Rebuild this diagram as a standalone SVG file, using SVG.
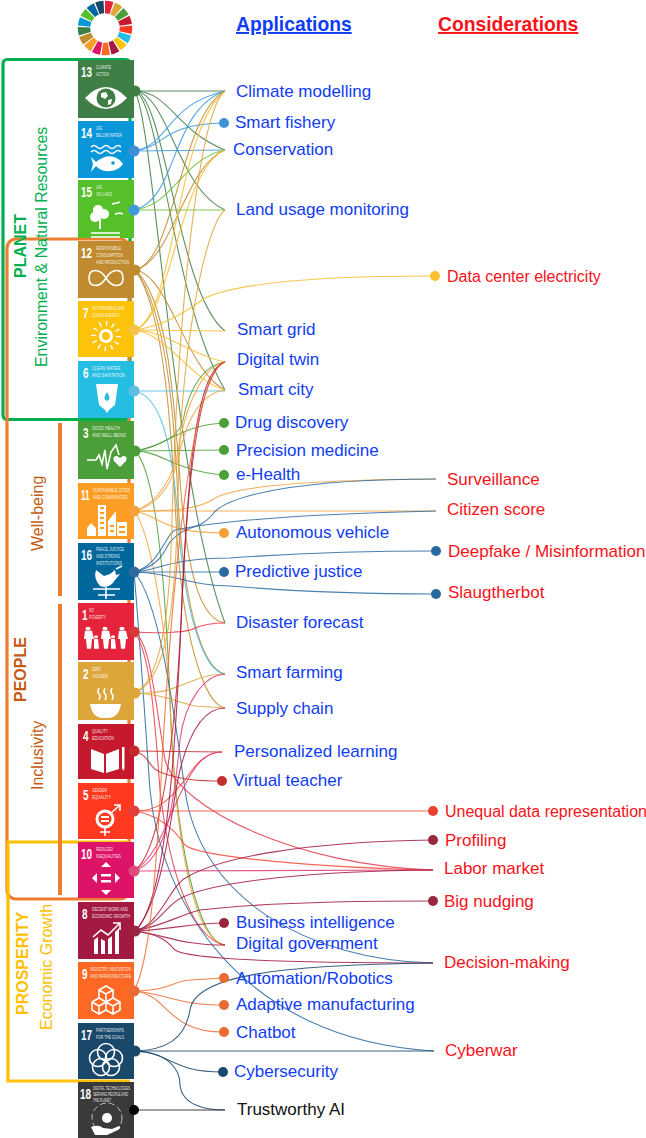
<svg xmlns="http://www.w3.org/2000/svg" width="646" height="1138" viewBox="0 0 646 1138">
<style>
text{font-family:"Liberation Sans",Arial,sans-serif}
.app{fill:#0f3cf5;font-size:17px}
.con{fill:#f8131a;font-size:17px}
.con2{fill:#f8131a;font-size:16px}
.hd{font-size:19.300px;font-weight:bold;text-decoration:underline}
.n{font-weight:bold;font-size:15.500px;fill:#fff}
.t{font-size:5.300px;fill:#fff;opacity:.85}
.w{fill:#fff}
.s{fill:none;stroke:#fff;stroke-width:1.6}
.br{fill:none;stroke-width:3.2}
#connectors path{fill:none;stroke-width:1.1;opacity:.85}
.c13{stroke:#3f7e44}.c14{stroke:#3a96dc}.c15{stroke:#66c12f}.c12{stroke:#bf8b2e}.c7{stroke:#f9bd2c}.c6{stroke:#4fbfe8}.c3{stroke:#4c9f38}.c11{stroke:#f5a03a}.c16{stroke:#2a6aa0}.c1{stroke:#e5384a}.c2{stroke:#dda63a}.c4{stroke:#c5292d}.c5{stroke:#ee4b38}.c10{stroke:#dd3a75}.c8{stroke:#a21942}.c9{stroke:#ee6a33}.c17{stroke:#19486a}.c18{stroke:#222}
</style>
<g id="sdg-wheel" fill="none" stroke-width="12.500">
<circle cx="105" cy="28" r="21" pathLength="17" stroke-dasharray=".86 16.14" stroke="#e5243b" transform="rotate(-90 105 28)"/>
<circle cx="105" cy="28" r="21" pathLength="17" stroke-dasharray=".86 16.14" stroke="#dda63a" transform="rotate(-68.8 105 28)"/>
<circle cx="105" cy="28" r="21" pathLength="17" stroke-dasharray=".86 16.14" stroke="#4c9f38" transform="rotate(-47.6 105 28)"/>
<circle cx="105" cy="28" r="21" pathLength="17" stroke-dasharray=".86 16.14" stroke="#c5192d" transform="rotate(-26.5 105 28)"/>
<circle cx="105" cy="28" r="21" pathLength="17" stroke-dasharray=".86 16.14" stroke="#ff3a21" transform="rotate(-5.3 105 28)"/>
<circle cx="105" cy="28" r="21" pathLength="17" stroke-dasharray=".86 16.14" stroke="#26bde2" transform="rotate(15.9 105 28)"/>
<circle cx="105" cy="28" r="21" pathLength="17" stroke-dasharray=".86 16.14" stroke="#fcc30b" transform="rotate(37.1 105 28)"/>
<circle cx="105" cy="28" r="21" pathLength="17" stroke-dasharray=".86 16.14" stroke="#a21942" transform="rotate(58.2 105 28)"/>
<circle cx="105" cy="28" r="21" pathLength="17" stroke-dasharray=".86 16.14" stroke="#fd6925" transform="rotate(79.4 105 28)"/>
<circle cx="105" cy="28" r="21" pathLength="17" stroke-dasharray=".86 16.14" stroke="#dd1367" transform="rotate(100.6 105 28)"/>
<circle cx="105" cy="28" r="21" pathLength="17" stroke-dasharray=".86 16.14" stroke="#fd9d24" transform="rotate(121.8 105 28)"/>
<circle cx="105" cy="28" r="21" pathLength="17" stroke-dasharray=".86 16.14" stroke="#bf8b2e" transform="rotate(142.9 105 28)"/>
<circle cx="105" cy="28" r="21" pathLength="17" stroke-dasharray=".86 16.14" stroke="#3f7e44" transform="rotate(164.1 105 28)"/>
<circle cx="105" cy="28" r="21" pathLength="17" stroke-dasharray=".86 16.14" stroke="#0a97d9" transform="rotate(185.3 105 28)"/>
<circle cx="105" cy="28" r="21" pathLength="17" stroke-dasharray=".86 16.14" stroke="#56c02b" transform="rotate(206.5 105 28)"/>
<circle cx="105" cy="28" r="21" pathLength="17" stroke-dasharray=".86 16.14" stroke="#00689d" transform="rotate(227.6 105 28)"/>
<circle cx="105" cy="28" r="21" pathLength="17" stroke-dasharray=".86 16.14" stroke="#19486a" transform="rotate(248.8 105 28)"/>
</g>
<g id="groups">
<rect class="br" x="3" y="59.5" width="127" height="360" rx="4" stroke="#00b050"/>
<rect class="br" x="7" y="239" width="122" height="660" rx="9" stroke="#ed7d31"/>
<path class="br" d="M129 842H8V1081H130" stroke="#ffc000"/>
<path d="M60 423V596M60 604V895" fill="none" stroke="#ed7d31" stroke-width="4"/>
<text transform="translate(26 278) rotate(-90)" font-size="16" font-weight="bold" fill="#00b050">PLANET</text>
<text transform="translate(47 367) rotate(-90)" font-size="15.900" fill="#00b050">Environment &amp; Natural Resources</text>
<text transform="translate(43 551) rotate(-90)" font-size="16" fill="#c55a11">Well-being</text>
<text transform="translate(26 702) rotate(-90)" font-size="16" font-weight="bold" fill="#c55a11">PEOPLE</text>
<text transform="translate(43 790) rotate(-90)" font-size="16" fill="#c55a11">Inclusivity</text>
<text transform="translate(28 1015) rotate(-90)" font-size="16" font-weight="bold" fill="#ffc000">PROSPERITY</text>
<text transform="translate(52 1030) rotate(-90)" font-size="16" fill="#ffc000">Economic Growth</text>
</g>
<g id="sdg-13"><g transform="translate(78 60)"><rect width="56" height="58" fill="#3f7e44"/><text class="n" transform="translate(3 17) scale(.64 1)">13</text><text class="t" x="18" y="9" textLength="15" lengthAdjust="spacingAndGlyphs">CLIMATE</text><text class="t" x="18" y="16" textLength="13" lengthAdjust="spacingAndGlyphs">ACTION</text><path class="w" d="M7 38Q28 16 49 38Q28 60 7 38Z"/><circle cx="28" cy="38" r="9.500" fill="#3f7e44"/><path class="w" d="M23 33l5-1 2 4-3 3-4-2zM30 40l4-1-1 5-3 1z"/></g></g>
<g id="sdg-14"><g transform="translate(78 121)"><rect width="56" height="57" fill="#0a97d9"/><text class="n" transform="translate(3 17) scale(.64 1)">14</text><text class="t" x="18" y="9" textLength="6" lengthAdjust="spacingAndGlyphs">LIFE</text><text class="t" x="18" y="16" textLength="26" lengthAdjust="spacingAndGlyphs">BELOW WATER</text><path class="s" d="M13 26q3-3 6 0t6 0 6 0 6 0 6 0M13 31q3-3 6 0t6 0 6 0 6 0 6 0"/><path class="w" d="M13 36l5 5q10-8 18-5 6 2 9 7-5 7-13 7-9 1-14-5l-5 6 2-8z"/><circle cx="35" cy="42" r="1.800" fill="#0a97d9"/></g></g>
<g id="sdg-15"><g transform="translate(78 180)"><rect width="56" height="58" fill="#56c02b"/><text class="n" transform="translate(3 17) scale(.64 1)">15</text><text class="t" x="18" y="9" textLength="6" lengthAdjust="spacingAndGlyphs">LIFE</text><text class="t" x="18" y="16" textLength="16" lengthAdjust="spacingAndGlyphs">ON LAND</text><circle cx="20" cy="30" r="5" class="w"/><circle cx="26" cy="34" r="5" class="w"/><circle cx="17" cy="37" r="5" class="w"/><rect x="21" y="38" width="2" height="11" class="w"/><path class="s" d="M13 53H42M13 57H42M34 24l5-1 3-1M37 34l5-1 3 1" stroke-width="1.200"/></g></g>
<g id="sdg-12"><g transform="translate(78 241)"><rect width="56" height="57" fill="#bf8b2e"/><text class="n" transform="translate(3 17) scale(.64 1)">12</text><text class="t" x="18" y="9" textLength="25" lengthAdjust="spacingAndGlyphs">RESPONSIBLE</text><text class="t" x="18" y="16" textLength="27" lengthAdjust="spacingAndGlyphs">CONSUMPTION</text><text class="t" x="18" y="23" textLength="33" lengthAdjust="spacingAndGlyphs">AND PRODUCTION</text><path class="s" stroke-width="2.800" d="M28 37C22 27 11 27 11 37S22 47 28 37 45 27 45 37 34 47 28 37Z"/></g></g>
<g id="sdg-7"><g transform="translate(78 301)"><rect width="56" height="56" fill="#fdc30b"/><text class="n" transform="translate(5 17) scale(.64 1)">7</text><text class="t" x="14" y="9" textLength="33" lengthAdjust="spacingAndGlyphs">AFFORDABLE AND</text><text class="t" x="14" y="16" textLength="28" lengthAdjust="spacingAndGlyphs">CLEAN ENERGY</text><circle cx="28" cy="35" r="5.500" fill="none" stroke="#fff" stroke-width="3"/><circle cx="28" cy="35" r="12.500" fill="none" stroke="#fff" stroke-width="5" stroke-dasharray="1.400 5.100"/></g></g>
<g id="sdg-6"><g transform="translate(78 361)"><rect width="56" height="57" fill="#26bde2"/><text class="n" transform="translate(5 17) scale(.64 1)">6</text><text class="t" x="14" y="9" textLength="28" lengthAdjust="spacingAndGlyphs">CLEAN WATER</text><text class="t" x="14" y="16" textLength="33" lengthAdjust="spacingAndGlyphs">AND SANITATION</text><path class="w" d="M18 23H40L37 44 31 49 29 52 27 49 21 44Z"/><path d="M29 31q-5 7 0 9q5-2 0-9Z" fill="#26bde2"/></g></g>
<g id="sdg-3"><g transform="translate(78 421)"><rect width="56" height="58" fill="#4c9f38"/><text class="n" transform="translate(5 17) scale(.64 1)">3</text><text class="t" x="14" y="9" textLength="28" lengthAdjust="spacingAndGlyphs">GOOD HEALTH</text><text class="t" x="14" y="16" textLength="34" lengthAdjust="spacingAndGlyphs">AND WELL-BEING</text><path class="s" d="M9 39H18L21 34 24 43 27 29 29 48 33 31 38 24 41 34"/><path class="w" d="M42 46l-6-6q-2-5 3-5l3 2 3-2q5 0 3 5z"/></g></g>
<g id="sdg-11"><g transform="translate(78 483)"><rect width="56" height="56" fill="#fd9d24"/><text class="n" transform="translate(3 17) scale(.52 1)">11</text><text class="t" x="15" y="9" textLength="37" lengthAdjust="spacingAndGlyphs">SUSTAINABLE CITIES</text><text class="t" x="15" y="16" textLength="35" lengthAdjust="spacingAndGlyphs">AND COMMUNITIES</text><path class="w" d="M20 53V22H28V53ZM30 53V38L38 28V53ZM39 53V39H49V53ZM9 53V45L13 40 18 45V53Z"/><path d="M22 25h4M22 30h4M22 35h4M22 40h4M22 45h4M32 43h4M32 48h4M41 44h6M41 49h6" stroke="#fd9d24" stroke-width="1.800" fill="none"/></g></g>
<g id="sdg-16"><g transform="translate(78 543)"><rect width="56" height="57" fill="#00689d"/><text class="n" transform="translate(3 17) scale(.64 1)">16</text><text class="t" x="18" y="8" textLength="28" lengthAdjust="spacingAndGlyphs">PEACE, JUSTICE</text><text class="t" x="18" y="15" textLength="24" lengthAdjust="spacingAndGlyphs">AND STRONG</text><text class="t" x="18" y="22" textLength="26" lengthAdjust="spacingAndGlyphs">INSTITUTIONS</text><path class="w" d="M18 27l8 6 6-2 5-4 1 5 4-1-5 6q-4 7-11 7l-4-1q-7-8-4-16z"/><path class="s" d="M15 46H42M28 44V56M20 52H37M38 26l6-3" /></g></g>
<g id="sdg-1"><g transform="translate(78 603)"><rect width="56" height="57" fill="#e5243b"/><text class="n" transform="translate(4 17) scale(.64 1)">1</text><text class="t" x="11" y="9" textLength="5" lengthAdjust="spacingAndGlyphs">NO</text><text class="t" x="11" y="16" textLength="17" lengthAdjust="spacingAndGlyphs">POVERTY</text><g transform="translate(0 6) scale(1 .75)"><path class="w" d="M7 29h7l2 11h-2l-1 13H9L8 40H6ZM24 29h7l2 11h-2l-1 13H26L25 40H23ZM41 29h7l2 11h-2l-1 13H43L42 40H40ZM16 40h4l1 13h-5ZM33 40h4l1 13h-5Z"/><circle cx="10" cy="26" r="2.500" class="w"/><circle cx="27" cy="26" r="2.500" class="w"/><circle cx="44" cy="26" r="2.500" class="w"/><circle cx="18" cy="37" r="2" class="w"/><circle cx="35" cy="37" r="2" class="w"/></g></g></g>
<g id="sdg-2"><g transform="translate(78 662)"><rect width="56" height="58" fill="#dda63a"/><text class="n" transform="translate(5 17) scale(.64 1)">2</text><text class="t" x="14" y="9" textLength="9" lengthAdjust="spacingAndGlyphs">ZERO</text><text class="t" x="14" y="16" textLength="16" lengthAdjust="spacingAndGlyphs">HUNGER</text><path class="w" d="M12 42H43Q41 55 31 56H24Q14 55 12 42Z"/><path class="s" d="M21 26q-2 4 0 6t0 6M27 26q-2 4 0 6t0 6M34 26q-2 4 0 6t0 6"/></g></g>
<g id="sdg-4"><g transform="translate(78 724)"><rect width="56" height="55" fill="#c5192d"/><text class="n" transform="translate(5 17) scale(.64 1)">4</text><text class="t" x="14" y="9" textLength="16" lengthAdjust="spacingAndGlyphs">QUALITY</text><text class="t" x="14" y="16" textLength="22" lengthAdjust="spacingAndGlyphs">EDUCATION</text><path class="w" d="M13 25l13 5V49L13 45ZM28 30l13-5V45L28 49Z"/><path class="w" d="M44 23h2.500V44l-1 3-1.500-3Z"/></g></g>
<g id="sdg-5"><g transform="translate(78 783)"><rect width="56" height="56" fill="#ff3a21"/><text class="n" transform="translate(5 17) scale(.64 1)">5</text><text class="t" x="14" y="9" textLength="15" lengthAdjust="spacingAndGlyphs">GENDER</text><text class="t" x="14" y="16" textLength="19" lengthAdjust="spacingAndGlyphs">EQUALITY</text><circle cx="27" cy="36" r="8" fill="none" stroke="#fff" stroke-width="3"/><path class="s" stroke-width="2.500" d="M27 44V53M22 49H32M33 30L41 23M36 22H42V28"/><path d="M23 34H31M23 38H31" stroke="#fff" stroke-width="2"/></g></g>
<g id="sdg-10"><g transform="translate(78 842)"><rect width="56" height="56" fill="#dd1367"/><text class="n" transform="translate(3 17) scale(.64 1)">10</text><text class="t" x="18" y="9" textLength="17" lengthAdjust="spacingAndGlyphs">REDUCED</text><text class="t" x="18" y="16" textLength="25" lengthAdjust="spacingAndGlyphs">INEQUALITIES</text><path class="w" d="M28 20l5 5H23ZM28 53l5-5H23ZM14 36l5-5V41ZM42 36l-5-5V41ZM23 32H33V34.500H23ZM23 38H33V40.500H23Z"/></g></g>
<g id="sdg-8"><g transform="translate(78 902)"><rect width="56" height="57" fill="#a21942"/><text class="n" transform="translate(4 17) scale(.64 1)">8</text><text class="t" x="14" y="9" textLength="36" lengthAdjust="spacingAndGlyphs">DECENT WORK AND</text><text class="t" x="14" y="16" textLength="38" lengthAdjust="spacingAndGlyphs">ECONOMIC GROWTH</text><path class="w" d="M16 38l4-3V52H16ZM23 37l4 2V52H23ZM30 37l4-3V52H30ZM37 30l4-4V52H37Z"/><path class="s" stroke-width="2.400" d="M15 35L23 28 30 33 41 22M35 21H42V28"/></g></g>
<g id="sdg-9"><g transform="translate(78 962)"><rect width="56" height="57" fill="#fd6925"/><text class="n" transform="translate(4 17) scale(.64 1)">9</text><text class="t" x="12" y="9" textLength="41" lengthAdjust="spacingAndGlyphs">INDUSTRY, INNOVATION</text><text class="t" x="12" y="16" textLength="41" lengthAdjust="spacingAndGlyphs">AND INFRASTRUCTURE</text><path class="s" d="M28 24l7 4v8l-7 4-7-4v-8zM21 28l7 4 7-4M28 32v8M21 36l7 4v8l-7 4-7-4v-8zM14 40l7 4 7-4M21 44v8M35 36l7 4v8l-7 4-7-4M28 40l7 4 7-4M35 44v8"/></g></g>
<g id="sdg-17"><g transform="translate(78 1023)"><rect width="56" height="56" fill="#19486a"/><text class="n" transform="translate(3 17) scale(.64 1)">17</text><text class="t" x="18" y="9" textLength="28" lengthAdjust="spacingAndGlyphs">PARTNERSHIPS</text><text class="t" x="18" y="16" textLength="28" lengthAdjust="spacingAndGlyphs">FOR THE GOALS</text><g class="s"><circle cx="28" cy="29" r="8.500"/><circle cx="20" cy="35" r="8.500"/><circle cx="36" cy="35" r="8.500"/><circle cx="23" cy="44" r="8.500"/><circle cx="33" cy="44" r="8.500"/></g></g></g>
<g id="sdg-18"><g transform="translate(78 1082)"><rect width="56" height="56" fill="#3a3a3a"/><text class="n" transform="translate(2 17) scale(.64 1)">18</text><text class="t" x="15" y="8" textLength="37" lengthAdjust="spacingAndGlyphs">DIGITAL TECHNOLOGIES</text><text class="t" x="15" y="14" textLength="35" lengthAdjust="spacingAndGlyphs">SERVING PEOPLE AND</text><text class="t" x="15" y="20" textLength="18" lengthAdjust="spacingAndGlyphs">THE PLANET</text><circle cx="29" cy="36" r="15" fill="none" stroke="#ddd" stroke-width=".8" stroke-dasharray="6 3"/><circle cx="29" cy="36" r="5" class="w"/><path class="w" d="M13 45q8-3 12 1l9 1 7-3q3 1-1 4l-11 5H17z"/></g></g>
<g id="connectors">
<path class="c13" d="M135 91L225 91"/>
<path class="c13" d="M135 91C170 92 175 130 225 150"/>
<path class="c13" d="M135 91C168 94 178 190 225 210"/>
<path class="c13" d="M135 91C165 95 178 295 225 331"/>
<path class="c13" d="M135 91C160 100 172 300 225 390"/>
<path class="c13" d="M135 91C155 130 172 480 225 623"/>
<path class="c14" d="M134 151C170 145 165 105 225 91"/>
<path class="c14" d="M134 151C165 148 160 124 224 123"/>
<path class="c14" d="M134 151L225 150"/>
<path class="c14" d="M134 210C178 200 170 110 225 91"/>
<path class="c15" d="M134 210C175 205 180 160 225 150"/>
<path class="c15" d="M134 210H225"/>
<path class="c12" d="M135 270C175 262 180 115 225 91"/>
<path class="c12" d="M135 270C172 262 185 165 225 150"/>
<path class="c12" d="M135 270C170 300 175 420 180 480C188 590 205 620 225 623"/>
<path class="c12" d="M135 270C168 310 175 430 178 500C185 620 205 670 225 674"/>
<path class="c12" d="M135 270C165 310 172 440 176 520C182 640 205 705 225 708"/>
<path class="c12" d="M135 270C170 275 185 370 225 390"/>
<path class="c7" d="M134 330C175 320 175 130 225 91"/>
<path class="c7" d="M134 330C172 322 178 170 225 150"/>
<path class="c7" d="M134 330C170 325 190 308 205 298C240 282 320 276 435 276"/>
<path class="c7" d="M134 330L225 331"/>
<path class="c7" d="M134 330C170 335 190 380 225 390"/>
<path class="c7" d="M134 330C165 330 190 355 225 362"/>
<path class="c6" d="M134 391H225"/>
<path class="c6" d="M134 391C160 395 172 440 178 520C185 620 205 672 225 674"/>
<path class="c3" d="M135 451C165 447 180 425 224 423"/>
<path class="c3" d="M135 451L224 450"/>
<path class="c3" d="M135 451C165 452 170 470 224 475"/>
<path class="c3" d="M135 451C165 445 180 435 183 420C190 385 205 365 225 362"/>
<path class="c3" d="M135 451C155 470 165 570 170 700C175 850 200 945 225 945"/>
<path class="c11" d="M134 511C155 505 175 480 180 440C188 400 205 365 225 362"/>
<path class="c11" d="M134 511C160 505 175 480 180 450C190 410 205 392 225 390"/>
<path class="c11" d="M134 511C170 511 195 510 212 500C225 490 280 480 436 479"/>
<path class="c11" d="M134 511H436"/>
<path class="c11" d="M134 511C160 515 160 533 224 533"/>
<path class="c11" d="M134 511C150 530 165 620 170 700C175 850 195 940 225 945"/>
<path class="c16" d="M134 572C165 565 165 545 172 540C185 525 200 530 212 515C225 495 300 479 436 479"/>
<path class="c16" d="M134 572C160 565 165 535 175 530C200 525 260 515 436 511"/>
<path class="c16" d="M134 572C160 570 170 558 230 558C300 553 380 551 436 551"/>
<path class="c16" d="M134 572H224"/>
<path class="c16" d="M134 572C170 572 190 586 230 586C300 592 380 594 436 594"/>
<path class="c16" d="M134 572C140 640 145 720 150 790C160 900 240 1040 434 1051"/>
<path class="c16" d="M134 572C160 600 175 720 185 790C200 900 310 960 433 963"/>
<path class="c1" d="M134 632C160 634 190 632 195 628C205 624 215 623 225 623"/>
<path class="c1" d="M134 632C150 650 155 720 160 790C170 880 195 940 225 945"/>
<path class="c1" d="M134 632C150 640 155 700 165 760C180 810 300 866 433 870"/>
<path class="c2" d="M135 693C165 680 175 620 178 500C180 350 205 225 225 210"/>
<path class="c2" d="M135 693C160 680 170 620 172 520C178 300 200 110 225 91"/>
<path class="c2" d="M135 693C165 695 180 685 195 680C205 676 215 674 225 674"/>
<path class="c2" d="M135 693C165 695 170 700 195 706L225 708"/>
<path class="c4" d="M134 751L222 752"/>
<path class="c4" d="M134 751C150 755 148 768 160 772C180 780 200 781 222 781"/>
<path class="c5" d="M134 811H433"/>
<path class="c5" d="M134 811C160 815 175 830 185 845C200 858 330 868 433 870"/>
<path class="c5" d="M134 811C165 812 175 790 185 780C195 765 205 752 222 752"/>
<path class="c10" d="M134 871L433 870"/>
<path class="c10" d="M134 871C170 860 175 790 180 740C185 700 205 675 225 674"/>
<path class="c10" d="M134 871C160 855 170 810 185 785C195 765 205 752 222 752"/>
<path class="c4" d="M134 871C165 850 178 700 182 600C188 470 200 370 225 362"/>
<path class="c8" d="M135 931C160 925 170 885 187 877C220 858 300 842 433 840"/>
<path class="c8" d="M135 931C160 925 165 905 183 897C220 880 320 871 433 870"/>
<path class="c8" d="M135 931C165 925 180 915 200 910C260 903 350 901 433 901"/>
<path class="c8" d="M135 931C170 930 190 923 224 923"/>
<path class="c8" d="M135 931C165 935 180 945 225 945"/>
<path class="c8" d="M135 931C165 935 170 945 175 950C190 960 300 963 433 963"/>
<path class="c8" d="M135 931C165 900 172 800 180 770C190 730 205 708 225 708"/>
<path class="c8" d="M135 931C170 900 178 700 182 600C188 480 195 370 225 362"/>
<path class="c9" d="M134 991C150 960 155 880 160 800C170 600 190 375 225 362"/>
<path class="c9" d="M134 991C170 991 175 980 190 980L224 978"/>
<path class="c9" d="M134 991C165 993 175 1005 224 1005"/>
<path class="c9" d="M134 991C170 995 165 1032 224 1032"/>
<path class="c17" d="M135 1051C165 1050 185 1040 190 1010C195 975 280 965 433 963"/>
<path class="c17" d="M135 1051H434"/>
<path class="c17" d="M135 1051C170 1052 170 1072 223 1072"/>
<path class="c17" d="M135 1051C170 1053 180 1070 180 1085C182 1105 205 1110 225 1110"/>
<path class="c18" d="M134 1110H225"/>
</g>
<g id="hubs">
<circle cx="135" cy="91" r="5.500" fill="#3f7e44"/><circle cx="134" cy="151" r="5.500" fill="#3f8fd8"/><circle cx="134" cy="210" r="5.500" fill="#3f98d8"/><circle cx="135" cy="270" r="5.500" fill="#bf8b2e"/><circle cx="134" cy="330" r="5.500" fill="#f7c04a"/><circle cx="134" cy="391" r="5.500" fill="#5dbde2"/><circle cx="135" cy="451" r="5.500" fill="#4c9f38"/><circle cx="134" cy="511" r="5.500" fill="#f5a03a"/><circle cx="134" cy="572" r="5.500" fill="#2a6aa0"/><circle cx="134" cy="632" r="5.500" fill="#d9383a"/><circle cx="135" cy="693" r="5.500" fill="#dda63a"/><circle cx="134" cy="751" r="5.500" fill="#c5292d"/><circle cx="134" cy="811" r="5.500" fill="#e0403a"/><circle cx="134" cy="871" r="5.500" fill="#e04a78"/><circle cx="135" cy="931" r="5.500" fill="#99263f"/><circle cx="134" cy="991" r="5.500" fill="#ea6a33"/><circle cx="135" cy="1051" r="5.500" fill="#19486a"/><circle cx="134" cy="1110" r="5" fill="#000"/>
</g>
<g id="headers"><text class="hd" x="236" y="31" fill="#0f3cf5">Applications</text><text class="hd" x="438" y="31" fill="#f8131a">Considerations</text></g>
<g id="a-climate"><text class="app" x="236" y="97">Climate modelling</text></g>
<g id="a-fishery"><circle cx="224" cy="123" r="5" fill="#3d92d8"/><text class="app" x="235" y="128">Smart fishery</text></g>
<g id="a-conservation"><text class="app" x="233" y="155">Conservation</text></g>
<g id="a-land"><text class="app" x="236" y="215">Land usage monitoring</text></g>
<g id="c-datacenter"><circle cx="435" cy="276" r="5" fill="#fbc02d"/><text class="con2" x="447" y="282">Data center electricity</text></g>
<g id="a-grid"><text class="app" x="237" y="335">Smart grid</text></g>
<g id="a-twin"><text class="app" x="237" y="365">Digital twin</text></g>
<g id="a-city"><text class="app" x="238" y="395">Smart city</text></g>
<g id="a-drug"><circle cx="224" cy="423" r="5" fill="#4c9f38"/><text class="app" x="235" y="428">Drug discovery</text></g>
<g id="a-precision"><circle cx="224" cy="450" r="5" fill="#4c9f38"/><text class="app" x="236" y="456">Precision medicine</text></g>
<g id="a-ehealth"><circle cx="224" cy="475" r="5" fill="#4c9f38"/><text class="app" x="236" y="480">e-Health</text></g>
<g id="c-surveillance"><text class="con" x="447" y="485">Surveillance</text></g>
<g id="c-citizen"><text class="con" x="447" y="515">Citizen score</text></g>
<g id="a-autonomous"><circle cx="224" cy="533" r="5" fill="#f5a03a"/><text class="app" x="236" y="538">Autonomous vehicle</text></g>
<g id="c-deepfake"><circle cx="436" cy="551" r="5" fill="#2a6aa0"/><text class="con" x="448" y="557">Deepfake / Misinformation</text></g>
<g id="a-predictive"><circle cx="224" cy="572" r="5" fill="#2a6aa0"/><text class="app" x="235" y="577">Predictive justice</text></g>
<g id="c-slaughter"><circle cx="436" cy="594" r="5" fill="#2a6aa0"/><text class="con" x="448" y="598">Slaugtherbot</text></g>
<g id="a-disaster"><text class="app" x="236" y="628">Disaster forecast</text></g>
<g id="a-farming"><text class="app" x="236" y="678">Smart farming</text></g>
<g id="a-supply"><text class="app" x="236" y="714">Supply chain</text></g>
<g id="a-personal"><text class="app" x="234" y="757">Personalized learning</text></g>
<g id="a-virtual"><circle cx="222" cy="781" r="5" fill="#c1302e"/><text class="app" x="233" y="786">Virtual teacher</text></g>
<g id="c-unequal"><circle cx="433" cy="811" r="5" fill="#e9402f"/><text class="con2" x="445" y="817">Unequal data representation</text></g>
<g id="c-profiling"><circle cx="433" cy="840" r="5" fill="#99263f"/><text class="con" x="445" y="846">Profiling</text></g>
<g id="c-labor"><text class="con" x="444" y="874">Labor market</text></g>
<g id="c-nudging"><circle cx="433" cy="901" r="5" fill="#99263f"/><text class="con" x="444" y="907">Big nudging</text></g>
<g id="a-bi"><circle cx="224" cy="923" r="5" fill="#99263f"/><text class="app" x="236" y="928">Business intelligence</text></g>
<g id="a-gov"><text class="app" x="236" y="949">Digital government</text></g>
<g id="c-decision"><text class="con" x="444" y="968">Decision-making</text></g>
<g id="a-automation"><circle cx="224" cy="978" r="5" fill="#ea6a33"/><text class="app" x="236" y="984">Automation/Robotics</text></g>
<g id="a-adaptive"><circle cx="224" cy="1005" r="5" fill="#ea6a33"/><text class="app" x="236" y="1010">Adaptive manufacturing</text></g>
<g id="a-chatbot"><circle cx="224" cy="1032" r="5" fill="#ea6a33"/><text class="app" x="236" y="1038">Chatbot</text></g>
<g id="c-cyberwar"><text class="con" x="445" y="1056">Cyberwar</text></g>
<g id="a-cyber"><circle cx="223" cy="1072" r="5" fill="#1b4a70"/><text class="app" x="234" y="1077">Cybersecurity</text></g>
<g id="a-trust"><text x="237" y="1115" font-size="17" fill="#111">Trustworthy AI</text></g>
</svg>
